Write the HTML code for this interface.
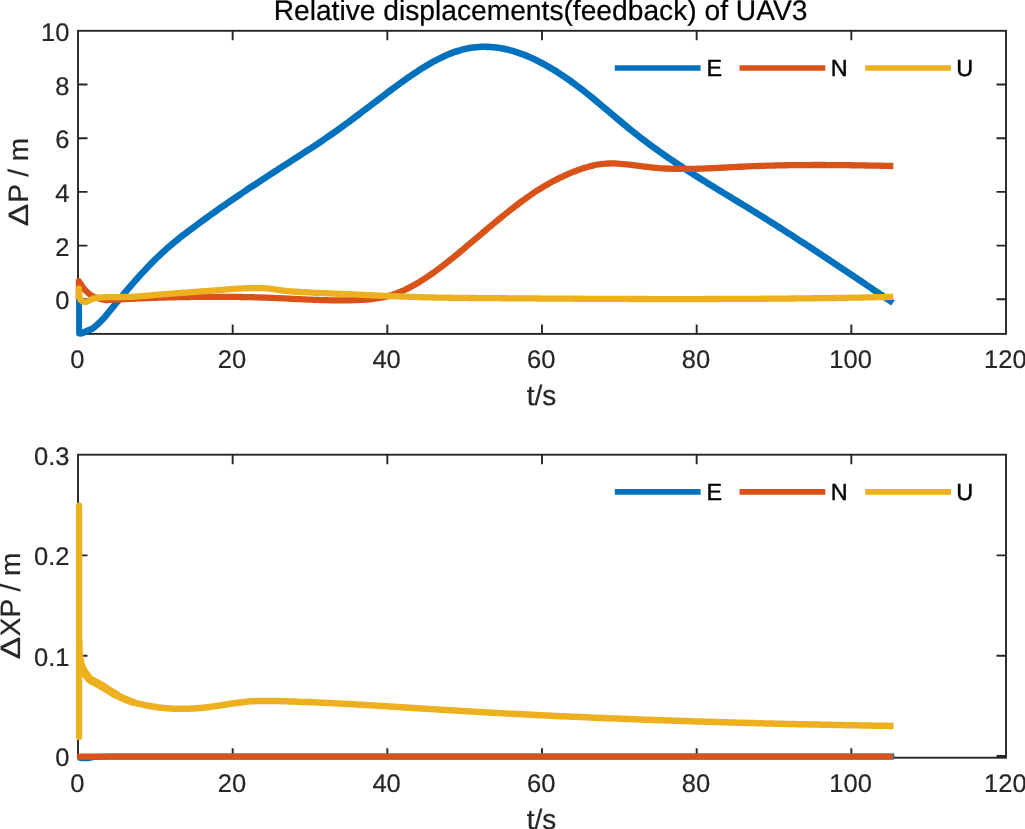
<!DOCTYPE html>
<html lang="en">
<head>
<meta charset="utf-8">
<title>Relative displacements(feedback) of UAV3</title>
<style>html,body{margin:0;padding:0;background:#fff;overflow:hidden}body{width:1025px;height:829px}svg{position:absolute;left:0;top:0}text{white-space:pre;text-rendering:geometricPrecision;stroke-width:0.22px;stroke-linejoin:round;paint-order:stroke}</style>
</head>
<body>
<svg width="1025" height="829" viewBox="0 0 1025 829" style="display:block;font-family:'Liberation Sans', Arial, Helvetica, sans-serif">
<rect width="1025" height="829" fill="#fff"/>
<rect x="78.00" y="30.80" width="928.00" height="303.10" fill="none" stroke="#262626" stroke-width="1.9"/>
<path d="M232.67 333.90v-9.50M232.67 30.80v9.50M387.33 333.90v-9.50M387.33 30.80v9.50M542.00 333.90v-9.50M542.00 30.80v9.50M696.67 333.90v-9.50M696.67 30.80v9.50M851.33 333.90v-9.50M851.33 30.80v9.50M78.00 299.30h9.50M1006.00 299.30h-9.50M78.00 245.60h9.50M1006.00 245.60h-9.50M78.00 191.90h9.50M1006.00 191.90h-9.50M78.00 138.20h9.50M1006.00 138.20h-9.50M78.00 84.50h9.50M1006.00 84.50h-9.50" stroke="#262626" stroke-width="1.9" fill="none"/>
<text transform="translate(77.30 368.00)" font-size="25.5" fill="#262626" stroke="#262626" text-anchor="middle">0</text>
<text transform="translate(231.97 368.00)" font-size="25.5" fill="#262626" stroke="#262626" text-anchor="middle">20</text>
<text transform="translate(386.63 368.00)" font-size="25.5" fill="#262626" stroke="#262626" text-anchor="middle">40</text>
<text transform="translate(541.30 368.00)" font-size="25.5" fill="#262626" stroke="#262626" text-anchor="middle">60</text>
<text transform="translate(695.97 368.00)" font-size="25.5" fill="#262626" stroke="#262626" text-anchor="middle">80</text>
<text transform="translate(850.63 368.00)" font-size="25.5" fill="#262626" stroke="#262626" text-anchor="middle">100</text>
<text transform="translate(1005.30 368.00)" font-size="25.5" fill="#262626" stroke="#262626" text-anchor="middle">120</text>
<text transform="translate(69.40 309.30)" font-size="25.5" fill="#262626" stroke="#262626" text-anchor="end">0</text>
<text transform="translate(69.40 255.60)" font-size="25.5" fill="#262626" stroke="#262626" text-anchor="end">2</text>
<text transform="translate(69.40 201.90)" font-size="25.5" fill="#262626" stroke="#262626" text-anchor="end">4</text>
<text transform="translate(69.40 148.20)" font-size="25.5" fill="#262626" stroke="#262626" text-anchor="end">6</text>
<text transform="translate(69.40 94.50)" font-size="25.5" fill="#262626" stroke="#262626" text-anchor="end">8</text>
<text transform="translate(69.40 40.80)" font-size="25.5" fill="#262626" stroke="#262626" text-anchor="end">10</text>
<text x="541.50" y="405.00" font-size="28.0" fill="#262626" stroke="#262626" text-anchor="middle">t/s</text>
<text transform="translate(27.50 182.35) rotate(-90)" x="-43.90" y="0" font-size="28.0" fill="#262626" stroke="#262626"><tspan textLength="22.44" lengthAdjust="spacingAndGlyphs">Δ</tspan><tspan dx="1.01">P / m</tspan></text>
<path d="M79.1 298.5L79.1 333.5" stroke="#0072BD" stroke-width="6.0" fill="none" stroke-linejoin="round" stroke-linecap="round"/>
<path d="M79.10 333.50C79.72 333.38 81.48 333.23 82.80 332.80C84.12 332.37 85.47 331.57 87.00 330.90C88.53 330.23 90.42 329.72 92.00 328.80C93.58 327.88 94.58 327.13 96.50 325.40C98.42 323.67 101.83 320.19 103.50 318.44C105.17 316.68 105.50 316.06 106.50 314.86C107.50 313.67 108.50 312.47 109.50 311.26C110.50 310.06 111.51 308.85 112.51 307.65C113.51 306.44 114.51 305.23 115.51 304.02C116.51 302.81 117.51 301.60 118.51 300.40C119.51 299.19 120.51 297.98 121.51 296.78C122.51 295.58 123.51 294.39 124.51 293.20C125.51 292.01 126.51 290.82 127.52 289.64C128.52 288.46 129.52 287.29 130.52 286.12C131.52 284.96 132.52 283.80 133.52 282.65C134.52 281.51 135.52 280.37 136.52 279.24C137.52 278.11 138.52 277.00 139.52 275.89C140.52 274.79 141.52 273.69 142.52 272.61C143.53 271.53 144.53 270.46 145.53 269.40C146.53 268.34 147.53 267.29 148.53 266.25C149.53 265.21 150.53 264.19 151.53 263.17C152.53 262.16 153.53 261.16 154.53 260.17C155.53 259.18 156.53 258.20 157.53 257.24C158.53 256.27 159.54 255.32 160.54 254.38C161.54 253.44 162.54 252.51 163.54 251.59C164.54 250.68 165.54 249.78 166.54 248.89C167.54 248.00 168.54 247.12 169.54 246.26C170.54 245.39 171.54 244.54 172.54 243.70C173.54 242.86 174.54 242.04 175.55 241.22C176.55 240.40 177.55 239.60 178.55 238.80C179.55 238.00 180.55 237.22 181.55 236.44C182.55 235.65 183.55 234.88 184.55 234.11C185.55 233.34 186.55 232.58 187.55 231.82C188.55 231.06 189.55 230.31 190.56 229.56C191.56 228.81 192.56 228.06 193.56 227.31C194.56 226.57 195.56 225.83 196.56 225.09C197.56 224.35 198.56 223.61 199.56 222.87C200.56 222.14 201.56 221.41 202.56 220.68C203.56 219.95 204.56 219.22 205.56 218.50C206.57 217.77 207.57 217.05 208.57 216.33C209.57 215.61 210.57 214.89 211.57 214.18C212.57 213.47 213.57 212.75 214.57 212.04C215.57 211.33 216.57 210.63 217.57 209.92C218.57 209.22 219.57 208.51 220.57 207.81C221.57 207.11 222.58 206.41 223.58 205.71C224.58 205.02 225.58 204.32 226.58 203.63C227.58 202.94 228.58 202.25 229.58 201.56C230.58 200.87 231.58 200.18 232.58 199.50C233.58 198.81 234.58 198.13 235.58 197.45C236.58 196.77 237.58 196.09 238.59 195.41C239.59 194.73 240.59 194.06 241.59 193.38C242.59 192.71 243.59 192.04 244.59 191.37C245.59 190.69 246.59 190.03 247.59 189.36C248.59 188.69 249.59 188.02 250.59 187.36C251.59 186.69 252.59 186.03 253.60 185.37C254.60 184.71 255.60 184.04 256.60 183.38C257.60 182.73 258.60 182.07 259.60 181.41C260.60 180.75 261.60 180.10 262.60 179.44C263.60 178.79 264.60 178.13 265.60 177.48C266.60 176.83 267.60 176.18 268.60 175.53C269.61 174.88 270.61 174.23 271.61 173.58C272.61 172.93 273.61 172.28 274.61 171.64C275.61 170.99 276.61 170.35 277.61 169.70C278.61 169.06 279.61 168.41 280.61 167.77C281.61 167.12 282.61 166.48 283.61 165.84C284.61 165.20 285.62 164.56 286.62 163.91C287.62 163.27 288.62 162.63 289.62 161.99C290.62 161.35 291.62 160.70 292.62 160.06C293.62 159.42 294.62 158.78 295.62 158.13C296.62 157.49 297.62 156.85 298.62 156.20C299.62 155.56 300.62 154.91 301.63 154.26C302.63 153.62 303.63 152.97 304.63 152.32C305.63 151.67 306.63 151.02 307.63 150.36C308.63 149.71 309.63 149.06 310.63 148.40C311.63 147.74 312.63 147.08 313.63 146.42C314.63 145.76 315.63 145.10 316.63 144.43C317.64 143.76 318.64 143.10 319.64 142.42C320.64 141.75 321.64 141.08 322.64 140.40C323.64 139.72 324.64 139.04 325.64 138.36C326.64 137.67 327.64 136.99 328.64 136.30C329.64 135.61 330.64 134.91 331.64 134.21C332.65 133.51 333.65 132.81 334.65 132.10C335.65 131.40 336.65 130.69 337.65 129.97C338.65 129.26 339.65 128.54 340.65 127.82C341.65 127.09 342.65 126.37 343.65 125.64C344.65 124.91 345.65 124.18 346.65 123.44C347.65 122.71 348.66 121.97 349.66 121.23C350.66 120.49 351.66 119.74 352.66 119.00C353.66 118.25 354.66 117.50 355.66 116.75C356.66 116.00 357.66 115.25 358.66 114.50C359.66 113.74 360.66 112.99 361.66 112.23C362.66 111.48 363.66 110.72 364.67 109.96C365.67 109.20 366.67 108.44 367.67 107.68C368.67 106.92 369.67 106.16 370.67 105.40C371.67 104.64 372.67 103.88 373.67 103.11C374.67 102.35 375.67 101.59 376.67 100.83C377.67 100.07 378.67 99.31 379.67 98.55C380.68 97.79 381.68 97.03 382.68 96.27C383.68 95.52 384.68 94.76 385.68 94.00C386.68 93.25 387.68 92.49 388.68 91.74C389.68 90.99 390.68 90.24 391.68 89.49C392.68 88.75 393.68 88.00 394.68 87.26C395.69 86.52 396.69 85.78 397.69 85.05C398.69 84.31 399.69 83.58 400.69 82.86C401.69 82.13 402.69 81.41 403.69 80.70C404.69 79.98 405.69 79.27 406.69 78.57C407.69 77.87 408.69 77.17 409.69 76.48C410.69 75.79 411.70 75.10 412.70 74.43C413.70 73.75 414.70 73.08 415.70 72.42C416.70 71.75 417.70 71.10 418.70 70.45C419.70 69.81 420.70 69.17 421.70 68.54C422.70 67.91 423.70 67.29 424.70 66.68C425.70 66.08 426.70 65.48 427.71 64.89C428.71 64.30 429.71 63.72 430.71 63.15C431.71 62.58 432.71 62.03 433.71 61.48C434.71 60.94 435.71 60.40 436.71 59.88C437.71 59.36 438.71 58.85 439.71 58.36C440.71 57.86 441.71 57.38 442.71 56.91C443.72 56.44 444.72 55.99 445.72 55.55C446.72 55.11 447.72 54.68 448.72 54.27C449.72 53.86 450.72 53.46 451.72 53.08C452.72 52.70 453.72 52.33 454.72 51.98C455.72 51.63 456.72 51.30 457.72 50.99C458.72 50.67 459.73 50.37 460.73 50.09C461.73 49.81 462.73 49.54 463.73 49.29C464.73 49.05 465.73 48.82 466.73 48.61C467.73 48.40 468.73 48.21 469.73 48.04C470.73 47.86 471.73 47.71 472.73 47.57C473.73 47.44 474.74 47.32 475.74 47.22C476.74 47.12 477.74 47.03 478.74 46.97C479.74 46.90 480.74 46.85 481.74 46.82C482.74 46.79 483.74 46.78 484.74 46.78C485.74 46.78 486.74 46.80 487.74 46.83C488.74 46.87 489.74 46.92 490.75 46.99C491.75 47.06 492.75 47.14 493.75 47.24C494.75 47.34 495.75 47.46 496.75 47.59C497.75 47.72 498.75 47.87 499.75 48.03C500.75 48.19 501.75 48.37 502.75 48.56C503.75 48.76 504.75 48.96 505.75 49.19C506.76 49.41 507.76 49.64 508.76 49.90C509.76 50.15 510.76 50.41 511.76 50.69C512.76 50.97 513.76 51.27 514.76 51.57C515.76 51.88 516.76 52.20 517.76 52.54C518.76 52.87 519.76 53.22 520.76 53.58C521.76 53.94 522.77 54.32 523.77 54.70C524.77 55.09 525.77 55.49 526.77 55.90C527.77 56.32 528.77 56.74 529.77 57.18C530.77 57.62 531.77 58.07 532.77 58.53C533.77 58.99 534.77 59.47 535.77 59.95C536.77 60.44 537.78 60.94 538.78 61.44C539.78 61.95 540.78 62.47 541.78 63.00C542.78 63.54 543.78 64.08 544.78 64.63C545.78 65.18 546.78 65.75 547.78 66.32C548.78 66.90 549.78 67.48 550.78 68.08C551.78 68.67 552.78 69.28 553.79 69.89C554.79 70.51 555.79 71.13 556.79 71.77C557.79 72.40 558.79 73.04 559.79 73.70C560.79 74.35 561.79 75.01 562.79 75.68C563.79 76.35 564.79 77.04 565.79 77.72C566.79 78.41 567.79 79.11 568.79 79.82C569.80 80.52 570.80 81.23 571.80 81.96C572.80 82.68 573.80 83.41 574.80 84.15C575.80 84.88 576.80 85.63 577.80 86.38C578.80 87.13 579.80 87.89 580.80 88.66C581.80 89.43 582.80 90.20 583.80 90.98C584.80 91.76 585.81 92.55 586.81 93.34C587.81 94.14 588.81 94.94 589.81 95.74C590.81 96.55 591.81 97.36 592.81 98.18C593.81 99.00 594.81 99.82 595.81 100.65C596.81 101.48 597.81 102.31 598.81 103.14C599.81 103.98 600.81 104.82 601.82 105.66C602.82 106.50 603.82 107.34 604.82 108.19C605.82 109.03 606.82 109.88 607.82 110.73C608.82 111.58 609.82 112.43 610.82 113.27C611.82 114.12 612.82 114.97 613.82 115.82C614.82 116.66 615.82 117.51 616.83 118.35C617.83 119.20 618.83 120.04 619.83 120.88C620.83 121.72 621.83 122.56 622.83 123.39C623.83 124.22 624.83 125.05 625.83 125.87C626.83 126.70 627.83 127.52 628.83 128.33C629.83 129.14 630.83 129.95 631.83 130.76C632.84 131.56 633.84 132.35 634.84 133.14C635.84 133.94 636.84 134.72 637.84 135.50C638.84 136.28 639.84 137.05 640.84 137.82C641.84 138.59 642.84 139.35 643.84 140.11C644.84 140.87 645.84 141.62 646.84 142.37C647.84 143.12 648.85 143.86 649.85 144.60C650.85 145.34 651.85 146.08 652.85 146.81C653.85 147.53 654.85 148.26 655.85 148.98C656.85 149.70 657.85 150.42 658.85 151.13C659.85 151.84 660.85 152.55 661.85 153.25C662.85 153.95 663.85 154.65 664.86 155.35C665.86 156.04 666.86 156.73 667.86 157.42C668.86 158.11 669.86 158.79 670.86 159.47C671.86 160.15 672.86 160.83 673.86 161.50C674.86 162.18 675.86 162.85 676.86 163.51C677.86 164.18 678.86 164.84 679.87 165.50C680.87 166.16 681.87 166.82 682.87 167.48C683.87 168.13 684.87 168.78 685.87 169.43C686.87 170.08 687.87 170.73 688.87 171.37C689.87 172.01 690.87 172.65 691.87 173.29C692.87 173.93 693.87 174.57 694.87 175.20C695.88 175.84 696.88 176.47 697.88 177.10C698.88 177.73 699.88 178.36 700.88 178.99C701.88 179.61 702.88 180.24 703.88 180.86C704.88 181.48 705.88 182.11 706.88 182.73C707.88 183.35 708.88 183.96 709.88 184.58C710.88 185.20 711.89 185.81 712.89 186.43C713.89 187.04 714.89 187.66 715.89 188.27C716.89 188.88 717.89 189.50 718.89 190.11C719.89 190.72 720.89 191.33 721.89 191.94C722.89 192.55 723.89 193.16 724.89 193.77C725.89 194.37 726.89 194.98 727.90 195.59C728.90 196.20 729.90 196.81 730.90 197.41C731.90 198.02 732.90 198.63 733.90 199.24C734.90 199.85 735.90 200.45 736.90 201.06C737.90 201.67 738.90 202.28 739.90 202.89C740.90 203.50 741.90 204.11 742.90 204.72C743.91 205.33 744.91 205.94 745.91 206.55C746.91 207.16 747.91 207.77 748.91 208.38C749.91 209.00 750.91 209.61 751.91 210.23C752.91 210.84 753.91 211.46 754.91 212.08C755.91 212.69 756.91 213.31 757.91 213.93C758.92 214.55 759.92 215.18 760.92 215.80C761.92 216.42 762.92 217.05 763.92 217.67C764.92 218.30 765.92 218.92 766.92 219.55C767.92 220.18 768.92 220.81 769.92 221.44C770.92 222.07 771.92 222.70 772.92 223.34C773.92 223.97 774.93 224.60 775.93 225.24C776.93 225.87 777.93 226.51 778.93 227.15C779.93 227.78 780.93 228.42 781.93 229.06C782.93 229.70 783.93 230.34 784.93 230.98C785.93 231.62 786.93 232.27 787.93 232.91C788.93 233.55 789.93 234.20 790.94 234.84C791.94 235.49 792.94 236.13 793.94 236.78C794.94 237.43 795.94 238.08 796.94 238.73C797.94 239.38 798.94 240.03 799.94 240.68C800.94 241.33 801.94 241.98 802.94 242.63C803.94 243.29 804.94 243.94 805.94 244.59C806.95 245.25 807.95 245.90 808.95 246.56C809.95 247.22 810.95 247.87 811.95 248.53C812.95 249.19 813.95 249.85 814.95 250.51C815.95 251.16 816.95 251.82 817.95 252.48C818.95 253.15 819.95 253.81 820.95 254.47C821.96 255.13 822.96 255.79 823.96 256.46C824.96 257.12 825.96 257.78 826.96 258.45C827.96 259.11 828.96 259.78 829.96 260.44C830.96 261.11 831.96 261.77 832.96 262.44C833.96 263.11 834.96 263.78 835.96 264.44C836.96 265.11 837.97 265.78 838.97 266.45C839.97 267.12 840.97 267.79 841.97 268.46C842.97 269.13 843.97 269.80 844.97 270.47C845.97 271.14 846.97 271.81 847.97 272.48C848.97 273.15 849.97 273.82 850.97 274.50C851.97 275.17 852.97 275.84 853.98 276.51C854.98 277.19 855.98 277.86 856.98 278.53C857.98 279.21 858.98 279.88 859.98 280.56C860.98 281.23 861.98 281.91 862.98 282.58C863.98 283.26 864.98 283.93 865.98 284.61C866.98 285.28 867.98 285.96 868.98 286.63C869.99 287.31 870.99 287.98 871.99 288.66C872.99 289.34 873.99 290.01 874.99 290.69C875.99 291.36 876.99 292.04 877.99 292.72C878.99 293.39 879.99 294.07 880.99 294.75C881.99 295.42 882.99 296.10 883.99 296.78C884.99 297.45 886.00 298.13 887.00 298.81C888.00 299.48 889.00 300.16 890.00 300.84C891.00 301.51 892.50 302.53 893.00 302.87" stroke="#0072BD" stroke-width="6.6" fill="none" stroke-linejoin="round" stroke-linecap="butt"/>
<path d="M78.90 299.00C78.90 296.03 78.90 284.17 78.90 281.20L78.90 281.20C79.13 281.53 79.63 282.17 80.30 283.20C80.97 284.23 81.68 285.85 82.90 287.40C84.12 288.95 85.85 290.97 87.60 292.50C89.35 294.03 90.48 295.34 93.40 296.60C96.32 297.86 102.65 299.50 105.10 300.05C107.55 300.60 107.10 299.95 108.10 299.89C109.10 299.84 110.09 299.79 111.09 299.74C112.09 299.68 113.09 299.63 114.09 299.58C115.09 299.53 116.09 299.48 117.09 299.43C118.09 299.38 119.09 299.33 120.08 299.28C121.08 299.23 122.08 299.19 123.08 299.14C124.08 299.09 125.08 299.04 126.08 299.00C127.08 298.95 128.08 298.91 129.08 298.86C130.07 298.82 131.07 298.77 132.07 298.73C133.07 298.68 134.07 298.64 135.07 298.60C136.07 298.56 137.07 298.51 138.07 298.47C139.07 298.43 140.06 298.39 141.06 298.35C142.06 298.31 143.06 298.27 144.06 298.23C145.06 298.19 146.06 298.16 147.06 298.12C148.06 298.08 149.06 298.05 150.05 298.01C151.05 297.97 152.05 297.94 153.05 297.90C154.05 297.87 155.05 297.84 156.05 297.80C157.05 297.77 158.05 297.74 159.05 297.71C160.04 297.67 161.04 297.64 162.04 297.61C163.04 297.58 164.04 297.55 165.04 297.53C166.04 297.50 167.04 297.47 168.04 297.44C169.04 297.41 170.03 297.39 171.03 297.36C172.03 297.34 173.03 297.31 174.03 297.29C175.03 297.26 176.03 297.24 177.03 297.22C178.03 297.20 179.02 297.17 180.02 297.15C181.02 297.13 182.02 297.11 183.02 297.09C184.02 297.07 185.02 297.06 186.02 297.04C187.02 297.02 188.02 297.00 189.01 296.99C190.01 296.97 191.01 296.96 192.01 296.94C193.01 296.93 194.01 296.92 195.01 296.90C196.01 296.89 197.01 296.88 198.01 296.87C199.00 296.86 200.00 296.85 201.00 296.84C202.00 296.83 203.00 296.82 204.00 296.82C205.00 296.81 206.00 296.80 207.00 296.80C208.00 296.79 208.99 296.79 209.99 296.79C210.99 296.78 211.99 296.78 212.99 296.78C213.99 296.78 214.99 296.78 215.99 296.78C216.99 296.78 217.99 296.78 218.98 296.78C219.98 296.78 220.98 296.79 221.98 296.79C222.98 296.79 223.98 296.80 224.98 296.81C225.98 296.81 226.98 296.82 227.98 296.83C228.97 296.84 229.97 296.85 230.97 296.86C231.97 296.87 232.97 296.88 233.97 296.89C234.97 296.90 235.97 296.91 236.97 296.93C237.97 296.94 238.96 296.96 239.96 296.98C240.96 296.99 241.96 297.01 242.96 297.03C243.96 297.05 244.96 297.07 245.96 297.09C246.96 297.11 247.96 297.13 248.95 297.15C249.95 297.17 250.95 297.20 251.95 297.22C252.95 297.25 253.95 297.27 254.95 297.30C255.95 297.33 256.95 297.36 257.94 297.39C258.94 297.42 259.94 297.45 260.94 297.48C261.94 297.51 262.94 297.54 263.94 297.58C264.94 297.61 265.94 297.65 266.94 297.68C267.93 297.72 268.93 297.76 269.93 297.80C270.93 297.83 271.93 297.87 272.93 297.91C273.93 297.96 274.93 298.00 275.93 298.04C276.93 298.08 277.92 298.13 278.92 298.17C279.92 298.22 280.92 298.26 281.92 298.31C282.92 298.36 283.92 298.40 284.92 298.45C285.92 298.50 286.92 298.55 287.91 298.60C288.91 298.65 289.91 298.69 290.91 298.74C291.91 298.79 292.91 298.84 293.91 298.89C294.91 298.94 295.91 298.99 296.91 299.04C297.90 299.08 298.90 299.13 299.90 299.18C300.90 299.23 301.90 299.28 302.90 299.32C303.90 299.37 304.90 299.41 305.90 299.46C306.90 299.50 307.89 299.55 308.89 299.59C309.89 299.63 310.89 299.68 311.89 299.72C312.89 299.76 313.89 299.80 314.89 299.84C315.89 299.87 316.89 299.91 317.88 299.95C318.88 299.98 319.88 300.01 320.88 300.05C321.88 300.08 322.88 300.11 323.88 300.14C324.88 300.16 325.88 300.19 326.87 300.21C327.87 300.24 328.87 300.26 329.87 300.28C330.87 300.30 331.87 300.31 332.87 300.33C333.87 300.34 334.87 300.35 335.87 300.36C336.86 300.37 337.86 300.38 338.86 300.38C339.86 300.38 340.86 300.38 341.86 300.38C342.86 300.38 343.86 300.37 344.86 300.36C345.86 300.35 346.85 300.34 347.85 300.32C348.85 300.31 349.85 300.29 350.85 300.26C351.85 300.24 352.85 300.21 353.85 300.18C354.85 300.15 355.85 300.12 356.84 300.08C357.84 300.04 358.84 299.99 359.84 299.95C360.84 299.90 361.84 299.85 362.84 299.79C363.84 299.73 364.84 299.66 365.84 299.59C366.83 299.52 367.83 299.44 368.83 299.35C369.83 299.26 370.83 299.16 371.83 299.05C372.83 298.94 373.83 298.82 374.83 298.68C375.83 298.55 376.82 298.41 377.82 298.25C378.82 298.09 379.82 297.92 380.82 297.73C381.82 297.54 382.82 297.34 383.82 297.12C384.82 296.90 385.82 296.67 386.81 296.42C387.81 296.16 388.81 295.89 389.81 295.60C390.81 295.31 391.81 295.00 392.81 294.67C393.81 294.35 394.81 294.00 395.80 293.63C396.80 293.27 397.80 292.88 398.80 292.48C399.80 292.08 400.80 291.66 401.80 291.23C402.80 290.79 403.80 290.34 404.80 289.87C405.79 289.41 406.79 288.92 407.79 288.42C408.79 287.92 409.79 287.41 410.79 286.88C411.79 286.35 412.79 285.81 413.79 285.25C414.79 284.69 415.78 284.12 416.78 283.53C417.78 282.95 418.78 282.35 419.78 281.74C420.78 281.13 421.78 280.50 422.78 279.87C423.78 279.23 424.78 278.58 425.77 277.93C426.77 277.27 427.77 276.60 428.77 275.92C429.77 275.23 430.77 274.54 431.77 273.84C432.77 273.14 433.77 272.43 434.77 271.71C435.76 270.99 436.76 270.26 437.76 269.52C438.76 268.78 439.76 268.03 440.76 267.28C441.76 266.52 442.76 265.76 443.76 264.99C444.76 264.22 445.75 263.44 446.75 262.66C447.75 261.87 448.75 261.08 449.75 260.29C450.75 259.49 451.75 258.69 452.75 257.88C453.75 257.07 454.75 256.26 455.74 255.44C456.74 254.62 457.74 253.80 458.74 252.98C459.74 252.15 460.74 251.32 461.74 250.49C462.74 249.66 463.74 248.82 464.73 247.98C465.73 247.14 466.73 246.30 467.73 245.46C468.73 244.62 469.73 243.77 470.73 242.93C471.73 242.08 472.73 241.23 473.73 240.39C474.72 239.54 475.72 238.69 476.72 237.84C477.72 236.99 478.72 236.15 479.72 235.30C480.72 234.45 481.72 233.61 482.72 232.76C483.72 231.92 484.71 231.07 485.71 230.23C486.71 229.39 487.71 228.54 488.71 227.70C489.71 226.87 490.71 226.03 491.71 225.19C492.71 224.36 493.71 223.53 494.70 222.70C495.70 221.87 496.70 221.04 497.70 220.22C498.70 219.40 499.70 218.58 500.70 217.76C501.70 216.95 502.70 216.14 503.70 215.33C504.69 214.52 505.69 213.72 506.69 212.92C507.69 212.13 508.69 211.33 509.69 210.55C510.69 209.76 511.69 208.98 512.69 208.20C513.69 207.43 514.68 206.66 515.68 205.89C516.68 205.13 517.68 204.37 518.68 203.62C519.68 202.87 520.68 202.13 521.68 201.40C522.68 200.66 523.68 199.93 524.67 199.21C525.67 198.49 526.67 197.78 527.67 197.07C528.67 196.37 529.67 195.67 530.67 194.99C531.67 194.30 532.67 193.62 533.67 192.95C534.66 192.28 535.66 191.62 536.66 190.97C537.66 190.33 538.66 189.69 539.66 189.06C540.66 188.43 541.66 187.81 542.66 187.20C543.65 186.59 544.65 185.99 545.65 185.40C546.65 184.82 547.65 184.24 548.65 183.68C549.65 183.11 550.65 182.56 551.65 182.02C552.65 181.47 553.64 180.94 554.64 180.42C555.64 179.90 556.64 179.39 557.64 178.89C558.64 178.39 559.64 177.90 560.64 177.42C561.64 176.94 562.64 176.47 563.63 176.02C564.63 175.56 565.63 175.11 566.63 174.67C567.63 174.23 568.63 173.81 569.63 173.39C570.63 172.97 571.63 172.56 572.63 172.16C573.62 171.77 574.62 171.38 575.62 171.00C576.62 170.62 577.62 170.25 578.62 169.89C579.62 169.53 580.62 169.18 581.62 168.84C582.62 168.50 583.61 168.17 584.61 167.85C585.61 167.54 586.61 167.23 587.61 166.94C588.61 166.65 589.61 166.37 590.61 166.11C591.61 165.84 592.61 165.60 593.60 165.37C594.60 165.15 595.60 164.94 596.60 164.75C597.60 164.56 598.60 164.39 599.60 164.25C600.60 164.10 601.60 163.98 602.60 163.88C603.59 163.77 604.59 163.69 605.59 163.62C606.59 163.56 607.59 163.51 608.59 163.48C609.59 163.44 610.59 163.43 611.59 163.43C612.58 163.43 613.58 163.44 614.58 163.47C615.58 163.50 616.58 163.54 617.58 163.59C618.58 163.64 619.58 163.71 620.58 163.78C621.58 163.85 622.57 163.94 623.57 164.03C624.57 164.12 625.57 164.22 626.57 164.32C627.57 164.43 628.57 164.54 629.57 164.66C630.57 164.78 631.57 164.90 632.56 165.03C633.56 165.15 634.56 165.29 635.56 165.42C636.56 165.55 637.56 165.68 638.56 165.81C639.56 165.95 640.56 166.08 641.56 166.21C642.55 166.34 643.55 166.48 644.55 166.60C645.55 166.73 646.55 166.85 647.55 166.97C648.55 167.09 649.55 167.21 650.55 167.31C651.55 167.42 652.54 167.52 653.54 167.62C654.54 167.72 655.54 167.81 656.54 167.89C657.54 167.97 658.54 168.05 659.54 168.13C660.54 168.20 661.54 168.27 662.53 168.33C663.53 168.39 664.53 168.45 665.53 168.50C666.53 168.55 667.53 168.60 668.53 168.64C669.53 168.68 670.53 168.72 671.53 168.75C672.52 168.79 673.52 168.81 674.52 168.84C675.52 168.86 676.52 168.88 677.52 168.90C678.52 168.91 679.52 168.92 680.52 168.93C681.51 168.94 682.51 168.94 683.51 168.94C684.51 168.94 685.51 168.94 686.51 168.94C687.51 168.93 688.51 168.92 689.51 168.91C690.51 168.89 691.50 168.88 692.50 168.86C693.50 168.84 694.50 168.82 695.50 168.79C696.50 168.77 697.50 168.74 698.50 168.71C699.50 168.68 700.50 168.65 701.49 168.62C702.49 168.58 703.49 168.55 704.49 168.51C705.49 168.47 706.49 168.43 707.49 168.39C708.49 168.35 709.49 168.31 710.49 168.26C711.48 168.22 712.48 168.17 713.48 168.12C714.48 168.08 715.48 168.03 716.48 167.98C717.48 167.93 718.48 167.88 719.48 167.83C720.48 167.78 721.47 167.73 722.47 167.67C723.47 167.62 724.47 167.57 725.47 167.52C726.47 167.46 727.47 167.41 728.47 167.36C729.47 167.30 730.47 167.25 731.46 167.20C732.46 167.15 733.46 167.09 734.46 167.04C735.46 166.99 736.46 166.94 737.46 166.89C738.46 166.84 739.46 166.79 740.46 166.74C741.45 166.69 742.45 166.64 743.45 166.59C744.45 166.55 745.45 166.50 746.45 166.46C747.45 166.41 748.45 166.37 749.45 166.33C750.44 166.28 751.44 166.24 752.44 166.20C753.44 166.16 754.44 166.12 755.44 166.09C756.44 166.05 757.44 166.01 758.44 165.98C759.44 165.94 760.43 165.91 761.43 165.87C762.43 165.84 763.43 165.81 764.43 165.78C765.43 165.75 766.43 165.72 767.43 165.69C768.43 165.66 769.43 165.63 770.42 165.60C771.42 165.58 772.42 165.55 773.42 165.53C774.42 165.50 775.42 165.48 776.42 165.45C777.42 165.43 778.42 165.41 779.42 165.39C780.41 165.37 781.41 165.35 782.41 165.33C783.41 165.31 784.41 165.29 785.41 165.27C786.41 165.26 787.41 165.24 788.41 165.22C789.41 165.21 790.40 165.19 791.40 165.18C792.40 165.17 793.40 165.15 794.40 165.14C795.40 165.13 796.40 165.12 797.40 165.11C798.40 165.10 799.40 165.09 800.39 165.08C801.39 165.07 802.39 165.07 803.39 165.06C804.39 165.05 805.39 165.05 806.39 165.04C807.39 165.03 808.39 165.03 809.39 165.03C810.38 165.02 811.38 165.02 812.38 165.02C813.38 165.01 814.38 165.01 815.38 165.01C816.38 165.01 817.38 165.01 818.38 165.01C819.38 165.01 820.37 165.01 821.37 165.01C822.37 165.02 823.37 165.02 824.37 165.02C825.37 165.03 826.37 165.03 827.37 165.03C828.37 165.04 829.36 165.04 830.36 165.05C831.36 165.06 832.36 165.06 833.36 165.07C834.36 165.08 835.36 165.08 836.36 165.09C837.36 165.10 838.36 165.11 839.35 165.12C840.35 165.13 841.35 165.14 842.35 165.15C843.35 165.16 844.35 165.17 845.35 165.18C846.35 165.19 847.35 165.20 848.35 165.21C849.34 165.23 850.34 165.24 851.34 165.25C852.34 165.27 853.34 165.28 854.34 165.29C855.34 165.31 856.34 165.32 857.34 165.34C858.34 165.35 859.33 165.37 860.33 165.38C861.33 165.40 862.33 165.42 863.33 165.43C864.33 165.45 865.33 165.47 866.33 165.49C867.33 165.50 868.33 165.52 869.32 165.54C870.32 165.56 871.32 165.58 872.32 165.59C873.32 165.61 874.32 165.63 875.32 165.65C876.32 165.67 877.32 165.69 878.32 165.71C879.31 165.73 880.31 165.75 881.31 165.77C882.31 165.79 883.31 165.81 884.31 165.84C885.31 165.86 886.31 165.88 887.31 165.90C888.31 165.92 889.30 165.94 890.30 165.97C891.30 165.99 892.80 166.02 893.30 166.03" stroke="#D95319" stroke-width="6.3" fill="none" stroke-linejoin="round" stroke-linecap="butt"/>
<path d="M78.90 299.00C78.90 297.27 78.90 290.33 78.90 288.60L78.90 288.60C78.98 289.83 79.08 294.05 79.40 296.00C79.72 297.95 79.90 299.27 80.80 300.30C81.70 301.33 83.35 302.18 84.80 302.20C86.25 302.22 88.07 301.00 89.50 300.40C90.93 299.80 91.77 299.08 93.40 298.60C95.03 298.12 97.82 297.75 99.30 297.55C100.78 297.34 101.30 297.41 102.30 297.36C103.29 297.30 104.29 297.26 105.29 297.23C106.29 297.19 107.29 297.16 108.29 297.14C109.29 297.12 110.29 297.10 111.28 297.09C112.28 297.07 113.28 297.07 114.28 297.06C115.28 297.05 116.28 297.05 117.28 297.04C118.28 297.03 119.27 297.03 120.27 297.02C121.27 297.02 122.27 297.01 123.27 297.00C124.27 296.98 125.27 296.97 126.27 296.95C127.26 296.93 128.26 296.90 129.26 296.87C130.26 296.83 131.26 296.79 132.26 296.75C133.26 296.70 134.26 296.65 135.25 296.60C136.25 296.54 137.25 296.48 138.25 296.42C139.25 296.35 140.25 296.28 141.25 296.21C142.25 296.14 143.24 296.06 144.24 295.98C145.24 295.90 146.24 295.82 147.24 295.74C148.24 295.66 149.24 295.57 150.24 295.48C151.23 295.40 152.23 295.31 153.23 295.22C154.23 295.13 155.23 295.04 156.23 294.95C157.23 294.86 158.23 294.77 159.22 294.68C160.22 294.59 161.22 294.50 162.22 294.41C163.22 294.32 164.22 294.23 165.22 294.15C166.22 294.06 167.21 293.98 168.21 293.90C169.21 293.82 170.21 293.74 171.21 293.66C172.21 293.58 173.21 293.50 174.21 293.42C175.20 293.34 176.20 293.27 177.20 293.19C178.20 293.12 179.20 293.04 180.20 292.97C181.20 292.89 182.20 292.82 183.19 292.75C184.19 292.67 185.19 292.60 186.19 292.53C187.19 292.46 188.19 292.39 189.19 292.32C190.19 292.25 191.18 292.17 192.18 292.10C193.18 292.03 194.18 291.96 195.18 291.89C196.18 291.82 197.18 291.75 198.18 291.68C199.17 291.61 200.17 291.54 201.17 291.46C202.17 291.39 203.17 291.32 204.17 291.25C205.17 291.17 206.17 291.10 207.16 291.03C208.16 290.95 209.16 290.88 210.16 290.80C211.16 290.73 212.16 290.65 213.16 290.57C214.16 290.50 215.15 290.42 216.15 290.34C217.15 290.26 218.15 290.18 219.15 290.10C220.15 290.01 221.15 289.93 222.15 289.85C223.14 289.77 224.14 289.69 225.14 289.61C226.14 289.53 227.14 289.45 228.14 289.37C229.14 289.29 230.14 289.22 231.13 289.14C232.13 289.07 233.13 288.99 234.13 288.93C235.13 288.86 236.13 288.79 237.13 288.72C238.13 288.66 239.12 288.60 240.12 288.54C241.12 288.48 242.12 288.43 243.12 288.38C244.12 288.33 245.12 288.29 246.12 288.25C247.11 288.21 248.11 288.17 249.11 288.14C250.11 288.11 251.11 288.09 252.11 288.07C253.11 288.05 254.11 288.04 255.10 288.04C256.10 288.03 257.10 288.03 258.10 288.04C259.10 288.05 260.10 288.07 261.10 288.10C262.09 288.13 263.09 288.16 264.09 288.21C265.09 288.27 266.09 288.33 267.09 288.41C268.09 288.50 269.09 288.60 270.08 288.72C271.08 288.84 272.08 288.98 273.08 289.12C274.08 289.26 275.08 289.43 276.08 289.58C277.08 289.73 278.07 289.89 279.07 290.04C280.07 290.18 281.07 290.32 282.07 290.44C283.07 290.56 284.07 290.67 285.07 290.78C286.06 290.88 287.06 290.98 288.06 291.07C289.06 291.16 290.06 291.24 291.06 291.32C292.06 291.40 293.06 291.47 294.05 291.54C295.05 291.61 296.05 291.68 297.05 291.75C298.05 291.81 299.05 291.88 300.05 291.94C301.05 292.00 302.04 292.07 303.04 292.13C304.04 292.19 305.04 292.24 306.04 292.30C307.04 292.36 308.04 292.41 309.04 292.47C310.03 292.52 311.03 292.57 312.03 292.62C313.03 292.68 314.03 292.73 315.03 292.78C316.03 292.83 317.03 292.87 318.02 292.92C319.02 292.97 320.02 293.01 321.02 293.06C322.02 293.11 323.02 293.15 324.02 293.19C325.02 293.24 326.01 293.28 327.01 293.32C328.01 293.37 329.01 293.41 330.01 293.45C331.01 293.49 332.01 293.54 333.01 293.58C334.00 293.62 335.00 293.66 336.00 293.70C337.00 293.74 338.00 293.78 339.00 293.82C340.00 293.87 341.00 293.91 341.99 293.95C342.99 293.99 343.99 294.03 344.99 294.07C345.99 294.11 346.99 294.16 347.99 294.20C348.99 294.24 349.98 294.28 350.98 294.33C351.98 294.37 352.98 294.41 353.98 294.46C354.98 294.50 355.98 294.55 356.98 294.59C357.97 294.64 358.97 294.68 359.97 294.72C360.97 294.77 361.97 294.81 362.97 294.86C363.97 294.90 364.97 294.95 365.96 294.99C366.96 295.04 367.96 295.08 368.96 295.13C369.96 295.17 370.96 295.22 371.96 295.27C372.96 295.31 373.95 295.36 374.95 295.40C375.95 295.44 376.95 295.49 377.95 295.53C378.95 295.58 379.95 295.62 380.95 295.67C381.94 295.71 382.94 295.76 383.94 295.80C384.94 295.84 385.94 295.89 386.94 295.93C387.94 295.97 388.94 296.02 389.93 296.06C390.93 296.10 391.93 296.14 392.93 296.18C393.93 296.22 394.93 296.27 395.93 296.31C396.93 296.35 397.92 296.39 398.92 296.43C399.92 296.47 400.92 296.50 401.92 296.54C402.92 296.58 403.92 296.62 404.92 296.66C405.91 296.69 406.91 296.73 407.91 296.76C408.91 296.80 409.91 296.83 410.91 296.87C411.91 296.90 412.91 296.94 413.90 296.97C414.90 297.00 415.90 297.03 416.90 297.06C417.90 297.09 418.90 297.12 419.90 297.15C420.89 297.18 421.89 297.21 422.89 297.24C423.89 297.26 424.89 297.29 425.89 297.31C426.89 297.34 427.89 297.36 428.88 297.39C429.88 297.41 430.88 297.43 431.88 297.45C432.88 297.48 433.88 297.50 434.88 297.52C435.88 297.54 436.87 297.56 437.87 297.57C438.87 297.59 439.87 297.61 440.87 297.63C441.87 297.65 442.87 297.66 443.87 297.68C444.86 297.69 445.86 297.71 446.86 297.72C447.86 297.74 448.86 297.75 449.86 297.77C450.86 297.78 451.86 297.79 452.85 297.81C453.85 297.82 454.85 297.83 455.85 297.84C456.85 297.86 457.85 297.87 458.85 297.88C459.85 297.89 460.84 297.90 461.84 297.91C462.84 297.92 463.84 297.93 464.84 297.94C465.84 297.95 466.84 297.96 467.84 297.97C468.83 297.98 469.83 297.99 470.83 297.99C471.83 298.00 472.83 298.01 473.83 298.02C474.83 298.03 475.83 298.04 476.82 298.05C477.82 298.05 478.82 298.06 479.82 298.07C480.82 298.08 481.82 298.09 482.82 298.09C483.82 298.10 484.81 298.11 485.81 298.12C486.81 298.12 487.81 298.13 488.81 298.14C489.81 298.15 490.81 298.16 491.81 298.16C492.80 298.17 493.80 298.18 494.80 298.19C495.80 298.19 496.80 298.20 497.80 298.21C498.80 298.22 499.80 298.23 500.79 298.23C501.79 298.24 502.79 298.25 503.79 298.26C504.79 298.26 505.79 298.27 506.79 298.28C507.79 298.29 508.78 298.29 509.78 298.30C510.78 298.31 511.78 298.32 512.78 298.32C513.78 298.33 514.78 298.34 515.78 298.35C516.77 298.35 517.77 298.36 518.77 298.37C519.77 298.37 520.77 298.38 521.77 298.39C522.77 298.40 523.77 298.40 524.76 298.41C525.76 298.42 526.76 298.43 527.76 298.43C528.76 298.44 529.76 298.45 530.76 298.45C531.76 298.46 532.75 298.47 533.75 298.47C534.75 298.48 535.75 298.49 536.75 298.50C537.75 298.50 538.75 298.51 539.75 298.52C540.74 298.52 541.74 298.53 542.74 298.54C543.74 298.54 544.74 298.55 545.74 298.56C546.74 298.56 547.74 298.57 548.73 298.58C549.73 298.58 550.73 298.59 551.73 298.60C552.73 298.60 553.73 298.61 554.73 298.61C555.73 298.62 556.72 298.63 557.72 298.63C558.72 298.64 559.72 298.65 560.72 298.65C561.72 298.66 562.72 298.66 563.72 298.67C564.71 298.68 565.71 298.68 566.71 298.69C567.71 298.69 568.71 298.70 569.71 298.71C570.71 298.71 571.71 298.72 572.70 298.72C573.70 298.73 574.70 298.73 575.70 298.74C576.70 298.75 577.70 298.75 578.70 298.76C579.69 298.76 580.69 298.77 581.69 298.77C582.69 298.78 583.69 298.78 584.69 298.79C585.69 298.79 586.69 298.80 587.68 298.80C588.68 298.81 589.68 298.81 590.68 298.82C591.68 298.82 592.68 298.83 593.68 298.83C594.68 298.84 595.67 298.84 596.67 298.85C597.67 298.85 598.67 298.86 599.67 298.86C600.67 298.87 601.67 298.87 602.67 298.88C603.66 298.88 604.66 298.88 605.66 298.89C606.66 298.89 607.66 298.90 608.66 298.90C609.66 298.91 610.66 298.91 611.65 298.91C612.65 298.92 613.65 298.92 614.65 298.93C615.65 298.93 616.65 298.93 617.65 298.94C618.65 298.94 619.64 298.94 620.64 298.95C621.64 298.95 622.64 298.95 623.64 298.96C624.64 298.96 625.64 298.96 626.64 298.97C627.63 298.97 628.63 298.97 629.63 298.98C630.63 298.98 631.63 298.98 632.63 298.99C633.63 298.99 634.63 298.99 635.62 298.99C636.62 299.00 637.62 299.00 638.62 299.00C639.62 299.00 640.62 299.01 641.62 299.01C642.62 299.01 643.61 299.01 644.61 299.02C645.61 299.02 646.61 299.02 647.61 299.02C648.61 299.02 649.61 299.03 650.61 299.03C651.60 299.03 652.60 299.03 653.60 299.03C654.60 299.03 655.60 299.04 656.60 299.04C657.60 299.04 658.60 299.04 659.59 299.04C660.59 299.04 661.59 299.04 662.59 299.04C663.59 299.05 664.59 299.05 665.59 299.05C666.59 299.05 667.58 299.05 668.58 299.05C669.58 299.05 670.58 299.05 671.58 299.05C672.58 299.05 673.58 299.05 674.58 299.05C675.57 299.05 676.57 299.05 677.57 299.05C678.57 299.05 679.57 299.05 680.57 299.05C681.57 299.05 682.57 299.05 683.56 299.05C684.56 299.05 685.56 299.05 686.56 299.05C687.56 299.05 688.56 299.05 689.56 299.05C690.56 299.05 691.55 299.04 692.55 299.04C693.55 299.04 694.55 299.04 695.55 299.04C696.55 299.04 697.55 299.04 698.55 299.03C699.54 299.03 700.54 299.03 701.54 299.03C702.54 299.03 703.54 299.03 704.54 299.02C705.54 299.02 706.54 299.02 707.53 299.02C708.53 299.02 709.53 299.01 710.53 299.01C711.53 299.01 712.53 299.01 713.53 299.00C714.53 299.00 715.52 299.00 716.52 298.99C717.52 298.99 718.52 298.99 719.52 298.98C720.52 298.98 721.52 298.98 722.52 298.97C723.51 298.97 724.51 298.97 725.51 298.96C726.51 298.96 727.51 298.96 728.51 298.95C729.51 298.95 730.51 298.94 731.50 298.94C732.50 298.93 733.50 298.93 734.50 298.93C735.50 298.92 736.50 298.92 737.50 298.91C738.49 298.91 739.49 298.90 740.49 298.90C741.49 298.89 742.49 298.89 743.49 298.88C744.49 298.88 745.49 298.87 746.48 298.86C747.48 298.86 748.48 298.85 749.48 298.85C750.48 298.84 751.48 298.83 752.48 298.83C753.48 298.82 754.47 298.82 755.47 298.81C756.47 298.80 757.47 298.80 758.47 298.79C759.47 298.78 760.47 298.78 761.47 298.77C762.46 298.76 763.46 298.75 764.46 298.75C765.46 298.74 766.46 298.73 767.46 298.72C768.46 298.72 769.46 298.71 770.45 298.70C771.45 298.69 772.45 298.68 773.45 298.68C774.45 298.67 775.45 298.66 776.45 298.65C777.45 298.64 778.44 298.63 779.44 298.62C780.44 298.62 781.44 298.61 782.44 298.60C783.44 298.59 784.44 298.58 785.44 298.57C786.43 298.56 787.43 298.55 788.43 298.54C789.43 298.53 790.43 298.52 791.43 298.51C792.43 298.50 793.43 298.49 794.42 298.48C795.42 298.47 796.42 298.46 797.42 298.45C798.42 298.44 799.42 298.43 800.42 298.42C801.42 298.40 802.41 298.39 803.41 298.38C804.41 298.37 805.41 298.36 806.41 298.35C807.41 298.33 808.41 298.32 809.41 298.31C810.40 298.30 811.40 298.29 812.40 298.27C813.40 298.26 814.40 298.25 815.40 298.24C816.40 298.22 817.40 298.21 818.39 298.20C819.39 298.18 820.39 298.17 821.39 298.16C822.39 298.14 823.39 298.13 824.39 298.12C825.39 298.10 826.38 298.09 827.38 298.07C828.38 298.06 829.38 298.05 830.38 298.03C831.38 298.02 832.38 298.00 833.38 297.99C834.37 297.97 835.37 297.96 836.37 297.94C837.37 297.93 838.37 297.91 839.37 297.90C840.37 297.88 841.37 297.86 842.36 297.85C843.36 297.83 844.36 297.82 845.36 297.80C846.36 297.78 847.36 297.77 848.36 297.75C849.36 297.73 850.35 297.72 851.35 297.70C852.35 297.68 853.35 297.66 854.35 297.65C855.35 297.63 856.35 297.61 857.35 297.59C858.34 297.58 859.34 297.56 860.34 297.54C861.34 297.52 862.34 297.50 863.34 297.49C864.34 297.47 865.34 297.45 866.33 297.43C867.33 297.41 868.33 297.39 869.33 297.37C870.33 297.35 871.33 297.33 872.33 297.31C873.33 297.29 874.32 297.27 875.32 297.25C876.32 297.23 877.32 297.21 878.32 297.19C879.32 297.17 880.32 297.15 881.32 297.13C882.31 297.11 883.31 297.09 884.31 297.07C885.31 297.04 886.31 297.02 887.31 297.00C888.31 296.98 889.31 296.96 890.30 296.93C891.30 296.91 892.80 296.88 893.30 296.87" stroke="#EDB120" stroke-width="6.3" fill="none" stroke-linejoin="round" stroke-linecap="butt"/>
<path d="M614.80 68.00h85.8" stroke="#0072BD" stroke-width="5.7" fill="none"/>
<text x="706.50" y="75.90" font-size="23.4" fill="#000" stroke="#000" style="stroke-width:.42px">E</text>
<path d="M739.50 68.00h85.8" stroke="#D95319" stroke-width="5.7" fill="none"/>
<text x="830.70" y="75.90" font-size="23.4" fill="#000" stroke="#000" style="stroke-width:.42px">N</text>
<path d="M865.20 68.00h85.8" stroke="#EDB120" stroke-width="5.7" fill="none"/>
<text x="956.30" y="75.90" font-size="23.4" fill="#000" stroke="#000" style="stroke-width:.42px">U</text>
<text x="540.50" y="20.0" font-size="28.2" fill="#000" stroke="#000" text-anchor="middle">Relative displacements(feedback) of UAV3</text>
<rect x="78.00" y="454.70" width="928.00" height="303.00" fill="none" stroke="#262626" stroke-width="1.9"/>
<path d="M232.67 757.70v-9.50M232.67 454.70v9.50M387.33 757.70v-9.50M387.33 454.70v9.50M542.00 757.70v-9.50M542.00 454.70v9.50M696.67 757.70v-9.50M696.67 454.70v9.50M851.33 757.70v-9.50M851.33 454.70v9.50M78.00 756.00h9.50M1006.00 756.00h-9.50M78.00 655.70h9.50M1006.00 655.70h-9.50M78.00 555.40h9.50M1006.00 555.40h-9.50" stroke="#262626" stroke-width="1.9" fill="none"/>
<text transform="translate(77.30 792.00)" font-size="25.5" fill="#262626" stroke="#262626" text-anchor="middle">0</text>
<text transform="translate(231.97 792.00)" font-size="25.5" fill="#262626" stroke="#262626" text-anchor="middle">20</text>
<text transform="translate(386.63 792.00)" font-size="25.5" fill="#262626" stroke="#262626" text-anchor="middle">40</text>
<text transform="translate(541.30 792.00)" font-size="25.5" fill="#262626" stroke="#262626" text-anchor="middle">60</text>
<text transform="translate(695.97 792.00)" font-size="25.5" fill="#262626" stroke="#262626" text-anchor="middle">80</text>
<text transform="translate(850.63 792.00)" font-size="25.5" fill="#262626" stroke="#262626" text-anchor="middle">100</text>
<text transform="translate(1005.30 792.00)" font-size="25.5" fill="#262626" stroke="#262626" text-anchor="middle">120</text>
<text transform="translate(69.40 766.00)" font-size="25.5" fill="#262626" stroke="#262626" text-anchor="end">0</text>
<text transform="translate(69.40 665.70)" font-size="25.5" fill="#262626" stroke="#262626" text-anchor="end">0.1</text>
<text transform="translate(69.40 565.40)" font-size="25.5" fill="#262626" stroke="#262626" text-anchor="end">0.2</text>
<text transform="translate(69.40 465.10)" font-size="25.5" fill="#262626" stroke="#262626" text-anchor="end">0.3</text>
<text x="541.50" y="829.00" font-size="28.0" fill="#262626" stroke="#262626" text-anchor="middle">t/s</text>
<text transform="translate(19.90 606.20) rotate(-90)" x="-53.10" y="0" font-size="28.0" fill="#262626" stroke="#262626"><tspan textLength="22.44" lengthAdjust="spacingAndGlyphs">Δ</tspan><tspan dx="0.71">XP / m</tspan></text>
<path d="M78 757.4L82 758.3L88 758.3L94 757.0L110 756.6L894.3 756.6" stroke="#0072BD" stroke-width="6.0" fill="none" stroke-linejoin="round" stroke-linecap="butt"/>
<path d="M77.40 756.60C213.33 756.60 757.07 756.60 893.00 756.60" stroke="#D95319" stroke-width="6.1" fill="none" stroke-linejoin="round" stroke-linecap="butt"/>
<path d="M79.1 737.0L79.1 505.6" stroke="#EDB120" stroke-width="6.2" fill="none" stroke-linejoin="round" stroke-linecap="round"/>
<path d="M83.00 668.50C83.20 668.97 83.60 670.17 84.20 671.30C84.80 672.43 85.72 674.02 86.60 675.30C87.48 676.58 88.45 678.02 89.50 679.00C90.55 679.98 91.65 680.48 92.90 681.20C94.15 681.92 95.60 682.55 97.00 683.30C98.40 684.05 99.17 684.42 101.30 685.70C103.43 686.98 106.98 689.30 109.80 691.00C112.62 692.70 115.67 694.53 118.20 695.90C120.73 697.27 122.75 698.22 125.00 699.20C127.25 700.18 130.58 701.37 131.70 701.80" stroke="#EDB120" stroke-width="7.4" fill="none" stroke-linejoin="round" stroke-linecap="round"/>
<path d="M85.50 673.60C85.68 673.88 85.93 674.40 86.60 675.30C87.27 676.20 88.45 678.02 89.50 679.00C90.55 679.98 91.65 680.48 92.90 681.20C94.15 681.92 95.60 682.55 97.00 683.30C98.40 684.05 99.17 684.42 101.30 685.70C103.43 686.98 107.35 689.50 109.80 691.00C112.25 692.50 114.97 694.08 116.00 694.70" stroke="#EDB120" stroke-width="8.4" fill="none" stroke-linejoin="round" stroke-linecap="round"/>
<path d="M79.10 640.00C79.23 642.50 79.43 650.78 79.90 655.00C80.37 659.22 81.18 662.58 81.90 665.30C82.62 668.02 83.42 669.63 84.20 671.30C84.98 672.97 85.72 674.02 86.60 675.30C87.48 676.58 88.45 678.02 89.50 679.00C90.55 679.98 91.65 680.48 92.90 681.20C94.15 681.92 95.60 682.55 97.00 683.30C98.40 684.05 99.17 684.42 101.30 685.70C103.43 686.98 106.98 689.30 109.80 691.00C112.62 692.70 115.67 694.53 118.20 695.90C120.73 697.27 122.75 698.21 125.00 699.20C127.25 700.19 130.08 701.28 131.70 701.87C133.32 702.45 133.70 702.43 134.70 702.70C135.70 702.97 136.70 703.23 137.70 703.48C138.70 703.73 139.70 703.97 140.70 704.21C141.70 704.44 142.70 704.66 143.70 704.87C144.70 705.09 145.70 705.29 146.70 705.49C147.70 705.68 148.70 705.87 149.70 706.05C150.70 706.23 151.70 706.40 152.70 706.56C153.70 706.72 154.70 706.87 155.70 707.01C156.70 707.15 157.70 707.29 158.70 707.41C159.70 707.54 160.70 707.66 161.70 707.77C162.70 707.87 163.70 707.97 164.70 708.07C165.70 708.16 166.70 708.24 167.70 708.32C168.70 708.39 169.70 708.46 170.69 708.52C171.69 708.58 172.69 708.63 173.69 708.67C174.69 708.72 175.69 708.75 176.69 708.78C177.69 708.81 178.69 708.83 179.69 708.84C180.69 708.85 181.69 708.85 182.69 708.85C183.69 708.85 184.69 708.83 185.69 708.81C186.69 708.80 187.69 708.77 188.69 708.73C189.69 708.70 190.69 708.66 191.69 708.61C192.69 708.56 193.69 708.50 194.69 708.44C195.69 708.38 196.69 708.31 197.69 708.23C198.69 708.15 199.69 708.07 200.69 707.97C201.69 707.88 202.69 707.78 203.69 707.68C204.69 707.57 205.69 707.46 206.69 707.34C207.69 707.22 208.69 707.09 209.69 706.96C210.69 706.83 211.69 706.69 212.69 706.55C213.69 706.41 214.69 706.26 215.69 706.11C216.69 705.96 217.69 705.81 218.69 705.66C219.69 705.50 220.69 705.35 221.69 705.19C222.69 705.03 223.69 704.87 224.69 704.72C225.69 704.56 226.69 704.40 227.69 704.25C228.69 704.09 229.69 703.93 230.69 703.78C231.69 703.63 232.69 703.48 233.69 703.33C234.69 703.19 235.69 703.04 236.69 702.91C237.69 702.77 238.69 702.64 239.69 702.51C240.69 702.38 241.69 702.26 242.69 702.15C243.69 702.03 244.69 701.92 245.69 701.82C246.68 701.73 247.68 701.63 248.68 701.55C249.68 701.47 250.68 701.40 251.68 701.33C252.68 701.27 253.68 701.21 254.68 701.17C255.68 701.12 256.68 701.08 257.68 701.05C258.68 701.01 259.68 700.99 260.68 700.97C261.68 700.95 262.68 700.93 263.68 700.93C264.68 700.92 265.68 700.91 266.68 700.92C267.68 700.92 268.68 700.92 269.68 700.93C270.68 700.94 271.68 700.96 272.68 700.97C273.68 700.99 274.68 701.01 275.68 701.03C276.68 701.06 277.68 701.08 278.68 701.11C279.68 701.13 280.68 701.16 281.68 701.19C282.68 701.21 283.68 701.24 284.68 701.27C285.68 701.30 286.68 701.33 287.68 701.36C288.68 701.39 289.68 701.43 290.68 701.46C291.68 701.49 292.68 701.52 293.68 701.56C294.68 701.59 295.68 701.63 296.68 701.66C297.68 701.70 298.68 701.73 299.68 701.77C300.68 701.81 301.68 701.85 302.68 701.88C303.68 701.92 304.68 701.96 305.68 702.00C306.68 702.04 307.68 702.08 308.68 702.12C309.68 702.16 310.68 702.20 311.68 702.25C312.68 702.29 313.68 702.33 314.68 702.37C315.68 702.42 316.68 702.46 317.68 702.51C318.68 702.55 319.68 702.60 320.68 702.64C321.68 702.69 322.67 702.73 323.67 702.78C324.67 702.83 325.67 702.88 326.67 702.92C327.67 702.97 328.67 703.02 329.67 703.07C330.67 703.12 331.67 703.17 332.67 703.22C333.67 703.27 334.67 703.32 335.67 703.37C336.67 703.42 337.67 703.47 338.67 703.52C339.67 703.58 340.67 703.63 341.67 703.68C342.67 703.73 343.67 703.79 344.67 703.84C345.67 703.89 346.67 703.95 347.67 704.00C348.67 704.06 349.67 704.11 350.67 704.17C351.67 704.22 352.67 704.28 353.67 704.33C354.67 704.39 355.67 704.45 356.67 704.50C357.67 704.56 358.67 704.62 359.67 704.68C360.67 704.73 361.67 704.79 362.67 704.85C363.67 704.91 364.67 704.96 365.67 705.02C366.67 705.08 367.67 705.14 368.67 705.20C369.67 705.26 370.67 705.32 371.67 705.38C372.67 705.44 373.67 705.50 374.67 705.56C375.67 705.62 376.67 705.68 377.67 705.74C378.67 705.80 379.67 705.86 380.67 705.92C381.67 705.98 382.67 706.05 383.67 706.11C384.67 706.17 385.67 706.23 386.67 706.29C387.67 706.35 388.67 706.42 389.67 706.48C390.67 706.54 391.67 706.60 392.67 706.67C393.67 706.73 394.67 706.79 395.67 706.85C396.67 706.92 397.67 706.98 398.66 707.04C399.66 707.10 400.66 707.17 401.66 707.23C402.66 707.29 403.66 707.36 404.66 707.42C405.66 707.48 406.66 707.55 407.66 707.61C408.66 707.67 409.66 707.74 410.66 707.80C411.66 707.86 412.66 707.93 413.66 707.99C414.66 708.05 415.66 708.12 416.66 708.18C417.66 708.24 418.66 708.31 419.66 708.37C420.66 708.43 421.66 708.50 422.66 708.56C423.66 708.62 424.66 708.68 425.66 708.75C426.66 708.81 427.66 708.87 428.66 708.94C429.66 709.00 430.66 709.06 431.66 709.12C432.66 709.19 433.66 709.25 434.66 709.31C435.66 709.37 436.66 709.44 437.66 709.50C438.66 709.56 439.66 709.62 440.66 709.68C441.66 709.75 442.66 709.81 443.66 709.87C444.66 709.93 445.66 709.99 446.66 710.05C447.66 710.11 448.66 710.17 449.66 710.23C450.66 710.29 451.66 710.36 452.66 710.42C453.66 710.48 454.66 710.54 455.66 710.60C456.66 710.65 457.66 710.71 458.66 710.77C459.66 710.83 460.66 710.89 461.66 710.95C462.66 711.01 463.66 711.07 464.66 711.13C465.66 711.19 466.66 711.24 467.66 711.30C468.66 711.36 469.66 711.42 470.66 711.48C471.66 711.53 472.66 711.59 473.66 711.65C474.65 711.71 475.65 711.76 476.65 711.82C477.65 711.88 478.65 711.93 479.65 711.99C480.65 712.05 481.65 712.10 482.65 712.16C483.65 712.22 484.65 712.27 485.65 712.33C486.65 712.38 487.65 712.44 488.65 712.49C489.65 712.55 490.65 712.61 491.65 712.66C492.65 712.72 493.65 712.77 494.65 712.82C495.65 712.88 496.65 712.93 497.65 712.99C498.65 713.04 499.65 713.10 500.65 713.15C501.65 713.20 502.65 713.26 503.65 713.31C504.65 713.36 505.65 713.42 506.65 713.47C507.65 713.52 508.65 713.58 509.65 713.63C510.65 713.68 511.65 713.73 512.65 713.79C513.65 713.84 514.65 713.89 515.65 713.94C516.65 714.00 517.65 714.05 518.65 714.10C519.65 714.15 520.65 714.20 521.65 714.25C522.65 714.30 523.65 714.36 524.65 714.41C525.65 714.46 526.65 714.51 527.65 714.56C528.65 714.61 529.65 714.66 530.65 714.71C531.65 714.76 532.65 714.81 533.65 714.86C534.65 714.91 535.65 714.96 536.65 715.01C537.65 715.06 538.65 715.11 539.65 715.15C540.65 715.20 541.65 715.25 542.65 715.30C543.65 715.35 544.65 715.40 545.65 715.45C546.65 715.49 547.65 715.54 548.65 715.59C549.65 715.64 550.65 715.69 551.64 715.73C552.64 715.78 553.64 715.83 554.64 715.88C555.64 715.92 556.64 715.97 557.64 716.02C558.64 716.06 559.64 716.11 560.64 716.16C561.64 716.20 562.64 716.25 563.64 716.30C564.64 716.34 565.64 716.39 566.64 716.43C567.64 716.48 568.64 716.52 569.64 716.57C570.64 716.62 571.64 716.66 572.64 716.71C573.64 716.75 574.64 716.80 575.64 716.84C576.64 716.89 577.64 716.93 578.64 716.97C579.64 717.02 580.64 717.06 581.64 717.11C582.64 717.15 583.64 717.19 584.64 717.24C585.64 717.28 586.64 717.33 587.64 717.37C588.64 717.41 589.64 717.46 590.64 717.50C591.64 717.54 592.64 717.58 593.64 717.63C594.64 717.67 595.64 717.71 596.64 717.75C597.64 717.80 598.64 717.84 599.64 717.88C600.64 717.92 601.64 717.96 602.64 718.01C603.64 718.05 604.64 718.09 605.64 718.13C606.64 718.17 607.64 718.21 608.64 718.25C609.64 718.29 610.64 718.33 611.64 718.38C612.64 718.42 613.64 718.46 614.64 718.50C615.64 718.54 616.64 718.58 617.64 718.62C618.64 718.66 619.64 718.70 620.64 718.74C621.64 718.78 622.64 718.82 623.64 718.85C624.64 718.89 625.64 718.93 626.64 718.97C627.63 719.01 628.63 719.05 629.63 719.09C630.63 719.13 631.63 719.17 632.63 719.20C633.63 719.24 634.63 719.28 635.63 719.32C636.63 719.36 637.63 719.39 638.63 719.43C639.63 719.47 640.63 719.51 641.63 719.54C642.63 719.58 643.63 719.62 644.63 719.66C645.63 719.69 646.63 719.73 647.63 719.77C648.63 719.80 649.63 719.84 650.63 719.88C651.63 719.91 652.63 719.95 653.63 719.98C654.63 720.02 655.63 720.06 656.63 720.09C657.63 720.13 658.63 720.16 659.63 720.20C660.63 720.23 661.63 720.27 662.63 720.31C663.63 720.34 664.63 720.38 665.63 720.41C666.63 720.45 667.63 720.48 668.63 720.51C669.63 720.55 670.63 720.58 671.63 720.62C672.63 720.65 673.63 720.69 674.63 720.72C675.63 720.75 676.63 720.79 677.63 720.82C678.63 720.85 679.63 720.89 680.63 720.92C681.63 720.95 682.63 720.99 683.63 721.02C684.63 721.05 685.63 721.09 686.63 721.12C687.63 721.15 688.63 721.18 689.63 721.22C690.63 721.25 691.63 721.28 692.63 721.31C693.63 721.35 694.63 721.38 695.63 721.41C696.63 721.44 697.63 721.47 698.63 721.50C699.63 721.54 700.63 721.57 701.63 721.60C702.63 721.63 703.62 721.66 704.62 721.69C705.62 721.72 706.62 721.75 707.62 721.78C708.62 721.81 709.62 721.84 710.62 721.87C711.62 721.91 712.62 721.94 713.62 721.97C714.62 722.00 715.62 722.03 716.62 722.06C717.62 722.08 718.62 722.11 719.62 722.14C720.62 722.17 721.62 722.20 722.62 722.23C723.62 722.26 724.62 722.29 725.62 722.32C726.62 722.35 727.62 722.38 728.62 722.41C729.62 722.43 730.62 722.46 731.62 722.49C732.62 722.52 733.62 722.55 734.62 722.58C735.62 722.60 736.62 722.63 737.62 722.66C738.62 722.69 739.62 722.71 740.62 722.74C741.62 722.77 742.62 722.80 743.62 722.82C744.62 722.85 745.62 722.88 746.62 722.91C747.62 722.93 748.62 722.96 749.62 722.99C750.62 723.01 751.62 723.04 752.62 723.07C753.62 723.09 754.62 723.12 755.62 723.14C756.62 723.17 757.62 723.20 758.62 723.22C759.62 723.25 760.62 723.27 761.62 723.30C762.62 723.33 763.62 723.35 764.62 723.38C765.62 723.40 766.62 723.43 767.62 723.45C768.62 723.48 769.62 723.50 770.62 723.53C771.62 723.55 772.62 723.58 773.62 723.60C774.62 723.62 775.62 723.65 776.62 723.67C777.62 723.70 778.62 723.72 779.61 723.75C780.61 723.77 781.61 723.79 782.61 723.82C783.61 723.84 784.61 723.87 785.61 723.89C786.61 723.91 787.61 723.94 788.61 723.96C789.61 723.98 790.61 724.01 791.61 724.03C792.61 724.05 793.61 724.07 794.61 724.10C795.61 724.12 796.61 724.14 797.61 724.16C798.61 724.19 799.61 724.21 800.61 724.23C801.61 724.25 802.61 724.28 803.61 724.30C804.61 724.32 805.61 724.34 806.61 724.36C807.61 724.39 808.61 724.41 809.61 724.43C810.61 724.45 811.61 724.47 812.61 724.49C813.61 724.51 814.61 724.53 815.61 724.56C816.61 724.58 817.61 724.60 818.61 724.62C819.61 724.64 820.61 724.66 821.61 724.68C822.61 724.70 823.61 724.72 824.61 724.74C825.61 724.76 826.61 724.78 827.61 724.80C828.61 724.82 829.61 724.84 830.61 724.86C831.61 724.88 832.61 724.90 833.61 724.92C834.61 724.94 835.61 724.96 836.61 724.98C837.61 725.00 838.61 725.02 839.61 725.04C840.61 725.06 841.61 725.08 842.61 725.09C843.61 725.11 844.61 725.13 845.61 725.15C846.61 725.17 847.61 725.19 848.61 725.21C849.61 725.22 850.61 725.24 851.61 725.26C852.61 725.28 853.61 725.30 854.61 725.32C855.60 725.33 856.60 725.35 857.60 725.37C858.60 725.39 859.60 725.40 860.60 725.42C861.60 725.44 862.60 725.46 863.60 725.47C864.60 725.49 865.60 725.51 866.60 725.53C867.60 725.54 868.60 725.56 869.60 725.58C870.60 725.59 871.60 725.61 872.60 725.63C873.60 725.64 874.60 725.66 875.60 725.68C876.60 725.69 877.60 725.71 878.60 725.73C879.60 725.74 880.60 725.76 881.60 725.77C882.60 725.79 883.60 725.81 884.60 725.82C885.60 725.84 886.60 725.85 887.60 725.87C888.60 725.88 889.60 725.90 890.60 725.91C891.60 725.93 893.10 725.95 893.60 725.96" stroke="#EDB120" stroke-width="6.5" fill="none" stroke-linejoin="round" stroke-linecap="butt"/>
<path d="M614.80 491.80h85.8" stroke="#0072BD" stroke-width="5.7" fill="none"/>
<text x="706.50" y="499.70" font-size="23.4" fill="#000" stroke="#000" style="stroke-width:.42px">E</text>
<path d="M739.50 491.80h85.8" stroke="#D95319" stroke-width="5.7" fill="none"/>
<text x="830.70" y="499.70" font-size="23.4" fill="#000" stroke="#000" style="stroke-width:.42px">N</text>
<path d="M865.20 491.80h85.8" stroke="#EDB120" stroke-width="5.7" fill="none"/>
<text x="956.30" y="499.70" font-size="23.4" fill="#000" stroke="#000" style="stroke-width:.42px">U</text>
</svg>
</body>
</html>
